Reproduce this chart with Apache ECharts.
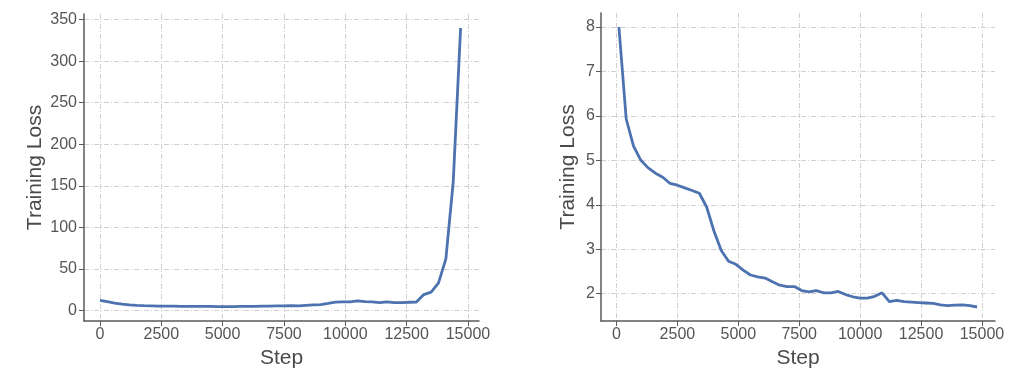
<!DOCTYPE html>
<html>
<head>
<meta charset="utf-8">
<script src="https://cdn.jsdelivr.net/npm/echarts@6/dist/echarts.min.js"></script>
<style>
html,body{margin:0;padding:0;background:#fff;}
#chart{width:1020px;height:380px;}
</style>
</head>
<body>
<div id="chart"></div>
<script>
// Left panel: diverging run
const leftSteps = [0,300,600,900,1200,1500,1800,2100,2400,2700,3000,3300,3600,3900,4200,4500,4800,5100,5400,5700,6000,6300,6600,6900,7200,7500,7800,8100,8400,8700,9000,9300,9600,9900,10200,10500,10800,11100,11400,11700,12000,12300,12600,12900,13200,13500,13800,14100,14400,14700];
const leftLoss = [12,10.5,8.8,7.5,6.5,6.0,5.6,5.4,5.2,5.1,5.0,4.9,4.9,4.8,4.8,4.7,4.6,4.6,4.6,4.7,4.8,4.9,5.0,5.1,5.3,5.4,5.8,5.5,6.0,6.5,7.0,8.3,10.0,10.2,10.3,11.5,10.5,10.3,9.2,10.3,9.3,9.4,9.8,10.0,19,22,33,62,155,340];
// Right panel: converging run
const rightSteps = [100,400,700,1000,1300,1600,1900,2200,2500,2800,3100,3400,3700,4000,4300,4600,4900,5200,5500,5800,6100,6400,6700,7000,7300,7600,7900,8200,8500,8800,9100,9400,9700,10000,10300,10600,10900,11200,11500,11800,12100,12400,12700,13000,13300,13600,13900,14200,14500,14800];
const rightLoss = [8.0,5.93,5.32,5.0,4.83,4.71,4.62,4.48,4.44,4.38,4.32,4.26,3.95,3.41,2.97,2.73,2.66,2.53,2.42,2.38,2.35,2.27,2.19,2.16,2.16,2.07,2.04,2.07,2.02,2.02,2.05,1.98,1.93,1.90,1.90,1.94,2.02,1.82,1.85,1.82,1.81,1.80,1.79,1.78,1.75,1.73,1.74,1.75,1.73,1.70];
// Tick labels
const xTicks = [0,2500,5000,7500,10000,12500,15000];
const leftYTicks = [0,50,100,150,200,250,300,350];
const rightYTicks = [2,3,4,5,6,7,8];

const FONT = '"Liberation Sans", Arial, Helvetica, sans-serif';
const LABEL_COLOR = '#555';
const AXIS_COLOR = '#5a5a5a';
const GRID_LINE = {show:true, lineStyle:{color:'#d0d0d0', width:1, type:[5,2,1,2]}};
const plain = v => String(v);

function xAxis(gridIndex, min, max){
  return {
    type:'value', gridIndex, min, max,
    name:'Step', nameLocation:'middle', nameGap:22,
    nameTextStyle:{fontFamily:FONT, fontSize:21, color:'#4a4a4a'},
    axisLine:{show:true, onZero:false, lineStyle:{color:AXIS_COLOR, width:1.5}},
    axisTick:{show:true, length:5, customValues:xTicks, lineStyle:{color:AXIS_COLOR, width:1}},
    axisLabel:{customValues:xTicks, formatter:plain, margin:6, fontFamily:FONT, fontSize:16, color:LABEL_COLOR, showMinLabel:true, showMaxLabel:true},
    splitLine:GRID_LINE
  };
}
function yAxis(gridIndex, min, max, ticks, gap, margin){
  return {
    type:'value', gridIndex, min, max,
    name:'Training Loss', nameLocation:'middle', nameGap:gap, nameRotate:90,
    nameTextStyle:{fontFamily:FONT, fontSize:21, color:'#4a4a4a'},
    axisLine:{show:true, onZero:false, lineStyle:{color:AXIS_COLOR, width:1.5}},
    axisTick:{show:true, length:5, customValues:ticks, lineStyle:{color:AXIS_COLOR, width:1}},
    axisLabel:{customValues:ticks, formatter:plain, margin:margin, fontFamily:FONT, fontSize:16, color:LABEL_COLOR},
    splitLine:GRID_LINE
  };
}

const chart = echarts.init(document.getElementById('chart'), null, {renderer:'canvas'});
chart.setOption({
  animation:false,
  backgroundColor:'#fff',
  grid:[
    {left:84, top:14, width:395, height:307, containLabel:false},
    {left:601, top:13, width:394, height:308, containLabel:false}
  ],
  xAxis:[xAxis(0,-650,15450), xAxis(1,-635,15535)],
  yAxis:[yAxis(0,-12.8,356.8,leftYTicks,38,7), yAxis(1,1.385,8.315,rightYTicks,22,6)],
  series:[
    {type:'line', xAxisIndex:0, yAxisIndex:0, data:leftSteps.map((s,i)=>[s,leftLoss[i]]),
     showSymbol:false, lineStyle:{color:'#4c72b0', width:2.8}, itemStyle:{color:'#4c72b0'}},
    {type:'line', xAxisIndex:1, yAxisIndex:1, data:rightSteps.map((s,i)=>[s,rightLoss[i]]),
     showSymbol:false, lineStyle:{color:'#4c72b0', width:2.8}, itemStyle:{color:'#4c72b0'}}
  ]
});
</script>
</body>
</html>
